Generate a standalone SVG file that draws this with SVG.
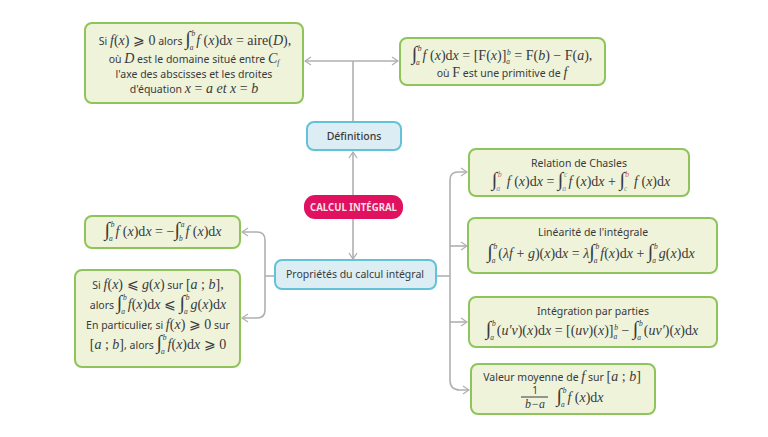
<svg xmlns="http://www.w3.org/2000/svg" width="768" height="437" viewBox="0 0 768 437">
<style>
.g{fill:#eef3da;stroke:#8fc45a;stroke-width:2}
.b{fill:#dceef4;stroke:#62c3d8;stroke-width:2}
.c{fill:none;stroke:#b0b0b2;stroke-width:1.6}
text{font-family:"Noto Sans","Liberation Sans",sans-serif;font-size:10.5px;fill:#3a3a3c;text-anchor:middle}
.m{font-family:"Liberation Serif",serif;font-size:14px}
.i{font-family:"Liberation Serif",serif;font-style:italic;font-size:14px}
.s{font-family:"Liberation Serif",serif;font-style:italic;font-size:7.5px}
.n{font-family:"Liberation Serif",serif;font-size:20px}
</style>
<defs>
<marker id="a" markerWidth="8" markerHeight="10" refX="7" refY="5" orient="auto-start-reverse" markerUnits="userSpaceOnUse"><path d="M1 1L7 5L1 9" fill="none" stroke="#b0b0b2" stroke-width="1.3"/></marker>
</defs>
<rect width="768" height="437" fill="#fff"/>
<g id="connectors">
<path class="c" d="M353 122V61"/>
<path class="c" d="M305 61H398" marker-start="url(#a)" marker-end="url(#a)"/>
<path class="c" d="M353 195V152" marker-end="url(#a)"/>
<path class="c" d="M353 219V259" marker-end="url(#a)"/>
<path class="c" d="M436 276H450"/>
<path class="c" d="M450 380V180Q450 172 458 172H467" marker-end="url(#a)"/>
<path class="c" d="M450 246H467" marker-end="url(#a)"/>
<path class="c" d="M450 322H467" marker-end="url(#a)"/>
<path class="c" d="M450 380Q450 390 460 390H469" marker-end="url(#a)"/>
<path class="c" d="M275 276H265"/>
<path class="c" d="M242 232H257Q265 232 265 240V310Q265 318 257 318H242" marker-start="url(#a)" marker-end="url(#a)"/>
</g>
<g id="node-aire">
<rect class="g" x="85" y="23" width="218" height="80" rx="7"/>
<text x="195" y="45">Si <tspan class="i">f</tspan><tspan class="m">(</tspan><tspan class="i">x</tspan><tspan class="m">) ⩾ 0</tspan> alors <tspan class="n">∫</tspan><tspan class="s" dx="-1" dy="5">a</tspan><tspan class="s" dx="-2" dy="-14">b</tspan><tspan class="i" dx="1" dy="9">f</tspan><tspan class="m"> (</tspan><tspan class="i">x</tspan><tspan class="m">)d</tspan><tspan class="i">x</tspan><tspan class="m"> = aire(</tspan><tspan class="i">D</tspan><tspan class="m">),</tspan></text>
<text x="194" y="63">où <tspan class="i">D</tspan> est le domaine situé entre <tspan class="i">C</tspan><tspan class="s" dy="2">f</tspan></text>
<text x="194" y="78">l'axe des abscisses et les droites</text>
<text x="194" y="93">d'équation <tspan class="i">x</tspan><tspan class="m"> = </tspan><tspan class="i">a et x</tspan><tspan class="m"> = </tspan><tspan class="i">b</tspan></text>
</g>
<g id="node-primitive">
<rect class="g" x="400" y="38" width="205" height="47" rx="7"/>
<text x="502" y="60"><tspan class="n">∫</tspan><tspan class="s" dx="-1" dy="5">a</tspan><tspan class="s" dx="-2" dy="-14">b</tspan><tspan class="i" dx="1" dy="9">f</tspan><tspan class="m"> (</tspan><tspan class="i">x</tspan><tspan class="m">)d</tspan><tspan class="i">x</tspan><tspan class="m"> = [F(</tspan><tspan class="i">x</tspan><tspan class="m">)]</tspan><tspan class="s" dy="4">a</tspan><tspan class="s" dx="-3" dy="-9">b</tspan><tspan class="m" dy="5"> = F(</tspan><tspan class="i">b</tspan><tspan class="m">) − F(</tspan><tspan class="i">a</tspan><tspan class="m">),</tspan></text>
<text x="502" y="77">où <tspan class="m">F</tspan> est une primitive de <tspan class="i">f</tspan></text>
</g>
<g id="node-definitions">
<rect class="b" x="307" y="122" width="94" height="28" rx="7"/>
<text x="354" y="140" style="font-weight:500">Définitions</text>
</g>
<g id="node-title">
<rect x="304" y="195" width="99" height="24" rx="11" fill="#e0125f"/>
<text x="353.500" y="211" textLength="87" lengthAdjust="spacingAndGlyphs" style="fill:#f8dfe8;font-weight:700;font-size:11px">CALCUL INTÉGRAL</text>
</g>
<g id="node-proprietes">
<rect class="b" x="275" y="260" width="161" height="29" rx="7"/>
<text x="355" y="278" style="font-size:10.500px">Propriétés du calcul intégral</text>
</g>
<g id="node-inversion">
<rect class="g" x="85" y="216" width="155" height="32" rx="7"/>
<text x="163" y="236"><tspan class="n">∫</tspan><tspan class="s" dx="-1" dy="5">a</tspan><tspan class="s" dx="-2" dy="-14">b</tspan><tspan class="i" dx="1" dy="9">f</tspan><tspan class="m"> (</tspan><tspan class="i">x</tspan><tspan class="m">)d</tspan><tspan class="i">x</tspan><tspan class="m"> = −</tspan><tspan class="n">∫</tspan><tspan class="s" dx="-1" dy="5">b</tspan><tspan class="s" dx="-2" dy="-14">a</tspan><tspan class="i" dx="1" dy="9">f</tspan><tspan class="m"> (</tspan><tspan class="i">x</tspan><tspan class="m">)d</tspan><tspan class="i">x</tspan></text>
</g>
<g id="node-inegalite">
<rect class="g" x="75" y="270" width="165" height="97" rx="7"/>
<text x="158" y="289">Si  <tspan class="i">f</tspan><tspan class="m">(</tspan><tspan class="i">x</tspan><tspan class="m">) ⩽ </tspan><tspan class="i">g</tspan><tspan class="m">(</tspan><tspan class="i">x</tspan><tspan class="m">)</tspan> sur <tspan class="m">[</tspan><tspan class="i">a</tspan><tspan class="m"> ; </tspan><tspan class="i">b</tspan><tspan class="m">],</tspan></text>
<text x="158" y="309">alors <tspan class="n">∫</tspan><tspan class="s" dx="-1" dy="5">a</tspan><tspan class="s" dx="-2" dy="-14">b</tspan><tspan class="i" dx="1" dy="9">f</tspan><tspan class="m">(</tspan><tspan class="i">x</tspan><tspan class="m">)d</tspan><tspan class="i">x</tspan><tspan class="m"> ⩽ </tspan><tspan class="n">∫</tspan><tspan class="s" dx="-1" dy="5">a</tspan><tspan class="s" dx="-2" dy="-14">b</tspan><tspan class="i" dx="1" dy="9">g</tspan><tspan class="m">(</tspan><tspan class="i">x</tspan><tspan class="m">)d</tspan><tspan class="i">x</tspan></text>
<text x="158" y="329">En particulier, si <tspan class="i">f</tspan><tspan class="m">(</tspan><tspan class="i">x</tspan><tspan class="m">) ⩾ 0</tspan> sur</text>
<text x="158" y="349"><tspan class="m">[</tspan><tspan class="i">a</tspan><tspan class="m"> ; </tspan><tspan class="i">b</tspan><tspan class="m">]</tspan>, alors <tspan class="n">∫</tspan><tspan class="s" dx="-1" dy="5">a</tspan><tspan class="s" dx="-2" dy="-14">b</tspan><tspan class="i" dx="1" dy="9">f</tspan><tspan class="m">(</tspan><tspan class="i">x</tspan><tspan class="m">)d</tspan><tspan class="i">x</tspan><tspan class="m"> ⩾ 0</tspan></text>
</g>
<g id="node-chasles">
<rect class="g" x="469" y="149" width="220" height="47" rx="7"/>
<text x="579" y="167">Relation de Chasles</text>
<text x="581" y="186"><tspan class="n">∫</tspan><tspan class="s" dx="-1" dy="5" style="fill:#3d9fd0">a</tspan><tspan class="s" dx="-2" dy="-14" style="fill:#e0506a">b</tspan><tspan class="i" dx="5" dy="9">f</tspan><tspan class="m"> (</tspan><tspan class="i">x</tspan><tspan class="m">)d</tspan><tspan class="i">x</tspan><tspan class="m"> = </tspan><tspan class="n">∫</tspan><tspan class="s" dx="-1" dy="5" style="fill:#3d9fd0">a</tspan><tspan class="s" dx="-2" dy="-14" style="fill:#4fb08a">c</tspan><tspan class="i" dx="1" dy="9">f</tspan><tspan class="m"> (</tspan><tspan class="i">x</tspan><tspan class="m">)d</tspan><tspan class="i">x</tspan><tspan class="m"> + </tspan><tspan class="n">∫</tspan><tspan class="s" dx="-1" dy="5" style="fill:#4fb08a">c</tspan><tspan class="s" dx="-2" dy="-14" style="fill:#e0506a">b</tspan><tspan class="i" dx="5" dy="9">f</tspan><tspan class="m"> (</tspan><tspan class="i">x</tspan><tspan class="m">)d</tspan><tspan class="i">x</tspan></text>
</g>
<g id="node-linearite">
<rect class="g" x="468" y="218" width="249" height="55" rx="7"/>
<text x="593" y="236">Linéarité de l'intégrale</text>
<text x="591" y="258"><tspan class="n">∫</tspan><tspan class="s" dx="-1" dy="5">a</tspan><tspan class="s" dx="-2" dy="-14">b</tspan><tspan class="m" dx="1" dy="9">(</tspan><tspan class="i">λf</tspan><tspan class="m"> + </tspan><tspan class="i">g</tspan><tspan class="m">)(</tspan><tspan class="i">x</tspan><tspan class="m">)d</tspan><tspan class="i">x</tspan><tspan class="m"> = </tspan><tspan class="i">λ</tspan><tspan class="n">∫</tspan><tspan class="s" dx="-1" dy="5">a</tspan><tspan class="s" dx="-2" dy="-14">b</tspan><tspan class="i" dx="1" dy="9">f</tspan><tspan class="m">(</tspan><tspan class="i">x</tspan><tspan class="m">)d</tspan><tspan class="i">x</tspan><tspan class="m"> + </tspan><tspan class="n">∫</tspan><tspan class="s" dx="-1" dy="5">a</tspan><tspan class="s" dx="-2" dy="-14">b</tspan><tspan class="i" dx="1" dy="9">g</tspan><tspan class="m">(</tspan><tspan class="i">x</tspan><tspan class="m">)d</tspan><tspan class="i">x</tspan></text>
</g>
<g id="node-ipp">
<rect class="g" x="469" y="297" width="248" height="50" rx="7"/>
<text x="593" y="315">Intégration par parties</text>
<text x="592" y="335"><tspan class="n">∫</tspan><tspan class="s" dx="-1" dy="5">a</tspan><tspan class="s" dx="-2" dy="-14">b</tspan><tspan class="m" dx="1" dy="9">(</tspan><tspan class="i">u′v</tspan><tspan class="m">)(</tspan><tspan class="i">x</tspan><tspan class="m">)d</tspan><tspan class="i">x</tspan><tspan class="m"> = [(</tspan><tspan class="i">uv</tspan><tspan class="m">)(</tspan><tspan class="i">x</tspan><tspan class="m">)]</tspan><tspan class="s" dy="4">a</tspan><tspan class="s" dx="-3" dy="-9">b</tspan><tspan class="m" dy="5"> − </tspan><tspan class="n">∫</tspan><tspan class="s" dx="-1" dy="5">a</tspan><tspan class="s" dx="-2" dy="-14">b</tspan><tspan class="m" dx="1" dy="9">(</tspan><tspan class="i">uv′</tspan><tspan class="m">)(</tspan><tspan class="i">x</tspan><tspan class="m">)d</tspan><tspan class="i">x</tspan></text>
</g>
<g id="node-moyenne">
<rect class="g" x="471" y="364" width="184" height="50" rx="7"/>
<text x="562" y="381">Valeur moyenne de  <tspan class="i">f</tspan>  sur <tspan class="m">[</tspan><tspan class="i">a</tspan><tspan class="m"> ; </tspan><tspan class="i">b</tspan><tspan class="m">]</tspan></text>
<text x="535" y="394" style="font-size:10px">1</text>
<path d="M521 397H548" stroke="#3a3a3c" fill="none"/>
<text x="535" y="408" style="font-size:10px"><tspan class="i" style="font-size:12px">b−a</tspan></text>
<text x="580" y="402"><tspan class="n">∫</tspan><tspan class="s" dx="-1" dy="5">a</tspan><tspan class="s" dx="-2" dy="-14">b</tspan><tspan class="i" dx="1" dy="9">f</tspan><tspan class="m"> (</tspan><tspan class="i">x</tspan><tspan class="m">)d</tspan><tspan class="i">x</tspan></text>
</g>
</svg>
